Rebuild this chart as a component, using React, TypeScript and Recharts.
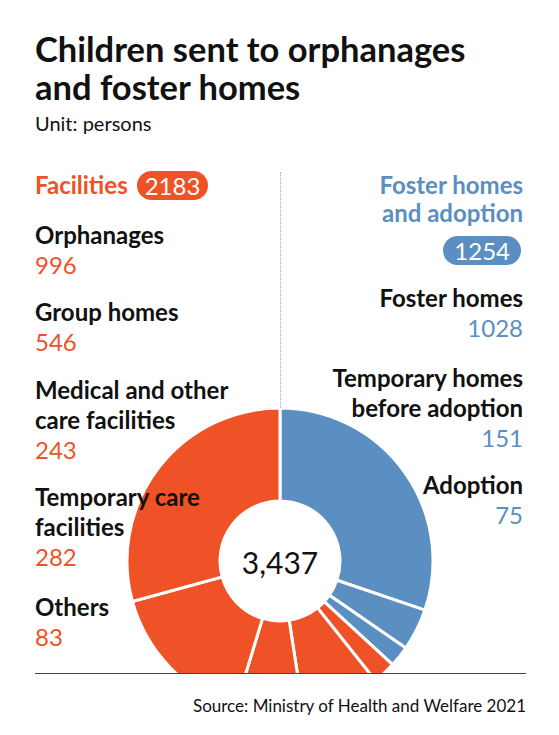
import React from "react";
import { PieChart, Pie, Cell } from "recharts";

// slices run clockwise from 12 o'clock
const sliceNames = [
  "Foster homes",
  "Temporary homes before adoption",
  "Adoption",
  "Others",
  "Temporary care facilities",
  "Medical and other care facilities",
  "Group homes",
  "Orphanages",
];
const sliceValues = [1028, 151, 75, 83, 282, 243, 546, 996];
const sliceGroups = ["foster", "foster", "foster", "facility", "facility", "facility", "facility", "facility"];

const facilityTotal = 2183;
const fosterTotal = 1254;
const grandTotal = 3437;

const facilityLabels = [
  { name: "Orphanages", value: 996 },
  { name: "Group homes", value: 546 },
  { name: "Medical and other\ncare facilities", value: 243 },
  { name: "Temporary care\nfacilities", value: 282 },
  { name: "Others", value: 83 },
];
const fosterLabels = [
  { name: "Foster homes", value: 1028 },
  { name: "Temporary homes\nbefore adoption", value: 151 },
  { name: "Adoption", value: 75 },
];

const ORANGE = "#F05228";
const BLUE = "#5B8EC1";
const FONT = "Lato, 'Open Sans', sans-serif";

const pieData = sliceNames.map((name, i) => ({ name, value: sliceValues[i], group: sliceGroups[i] }));

const leftTops = [220, 297, 375, 482, 592];
const rightTops = [283, 363, 470];

function LabelBlock({ name, value, color, top, align }: { name: string; value: number; color: string; top: number; align: "left" | "right" }) {
  const pos = align === "left" ? { left: 35 } : { right: 36 };
  return (
    <div style={{ position: "absolute", top, ...pos, textAlign: align, fontSize: 24, lineHeight: "30px" }}>
      {name.split("\n").map((line) => (
        <div key={line} style={{ fontWeight: 700, color: "#111" }}>{line}</div>
      ))}
      <div style={{ color }}>{value}</div>
    </div>
  );
}

export default function App() {
  return (
    <div style={{ position: "absolute", left: 0, top: 0, width: 559, height: 735, background: "#fff", fontFamily: FONT, overflow: "hidden" }}>
      <div style={{ position: "absolute", left: 0, top: 0 }}>
        <PieChart width={559} height={673} margin={{ top: 0, right: 0, bottom: 0, left: 0 }}>
          <Pie
            data={pieData}
            dataKey="value"
            nameKey="name"
            cx={280}
            cy={561}
            innerRadius={60}
            outerRadius={153}
            startAngle={90}
            endAngle={-270}
            stroke="#fff"
            strokeWidth={3}
            isAnimationActive={false}
          >
            {pieData.map((d) => (
              <Cell key={d.name} fill={d.group === "foster" ? BLUE : ORANGE} />
            ))}
          </Pie>
        </PieChart>
      </div>

      {/* title */}
      <div style={{ position: "absolute", left: 35, top: 30, fontSize: 34.5, fontWeight: 700, lineHeight: "38px", color: "#111" }}>
        Children sent to orphanages
        <br />
        and foster homes
      </div>
      <div style={{ position: "absolute", left: 35, top: 110, fontSize: 20, lineHeight: "26px", color: "#111" }}>Unit: persons</div>

      {/* divider */}
      <div style={{ position: "absolute", left: 280, top: 172, height: 236, borderLeft: "1px dotted #aaa" }} />

      {/* group headers */}
      <div style={{ position: "absolute", left: 35, top: 170, fontSize: 24, lineHeight: "30px", fontWeight: 700, color: ORANGE, display: "flex", alignItems: "center" }}>
        Facilities
        <span style={{ marginLeft: 9, background: ORANGE, color: "#fff", fontWeight: 400, borderRadius: 15, padding: "0 8px", height: 29, lineHeight: "29px" }}>
          {facilityTotal}
        </span>
      </div>
      <div style={{ position: "absolute", right: 36, top: 171, fontSize: 24, lineHeight: "28px", fontWeight: 700, color: BLUE, textAlign: "right" }}>
        Foster homes
        <br />
        and adoption
      </div>
      <div style={{ position: "absolute", right: 38, top: 236, fontSize: 24, height: 29, lineHeight: "29px", background: BLUE, color: "#fff", borderRadius: 15, padding: "0 11px" }}>
        {fosterTotal}
      </div>

      {facilityLabels.map((l, i) => (
        <LabelBlock key={l.name} name={l.name} value={l.value} color={ORANGE} top={leftTops[i]} align="left" />
      ))}
      {fosterLabels.map((l, i) => (
        <LabelBlock key={l.name} name={l.name} value={l.value} color={BLUE} top={rightTops[i]} align="right" />
      ))}

      {/* center total */}
      <div style={{ position: "absolute", left: 220, top: 545, width: 120, textAlign: "center", fontSize: 30, lineHeight: "34px", color: "#111" }}>
        {grandTotal.toLocaleString("en-US")}
      </div>

      {/* baseline */}
      <div style={{ position: "absolute", left: 35, top: 673, width: 491, borderTop: "1.5px solid #444" }} />
      <div style={{ position: "absolute", right: 33, top: 694, fontSize: 17, lineHeight: "24px", color: "#111" }}>
        Source: Ministry of Health and Welfare 2021
      </div>
    </div>
  );
}
